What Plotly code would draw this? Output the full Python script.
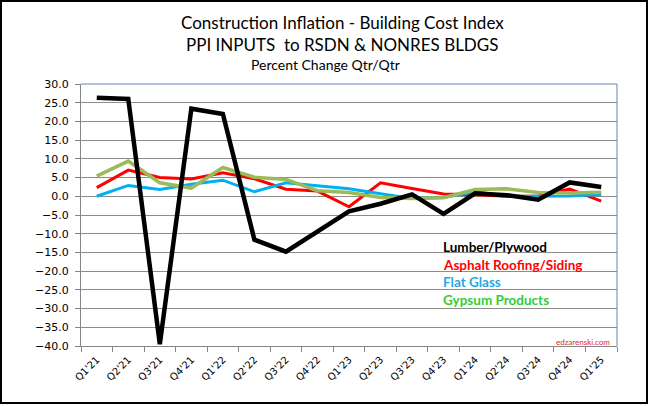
import plotly.graph_objects as go

quarters = ["Q1'21", "Q2'21", "Q3'21", "Q4'21", "Q1'22", "Q2'22", "Q3'22", "Q4'22",
            "Q1'23", "Q2'23", "Q3'23", "Q4'23", "Q1'24", "Q2'24", "Q3'24", "Q4'24", "Q1'25"]

lumber_plywood = [26.3, 26.0, -39.5, 23.4, 22.0, -11.6, -14.8, -9.3, -4.0, -2.0, 0.5, -4.7, 0.8, 0.3, -0.9, 3.7, 2.5]
asphalt_roofing = [2.3, 7.0, 5.0, 4.6, 6.3, 4.7, 1.9, 1.4, -2.8, 3.6, 2.1, 0.6, 0.4, 0.0, 0.1, 1.9, -1.3]
flat_glass = [0.0, 2.9, 1.8, 3.2, 4.3, 1.2, 3.6, 2.7, 2.0, 0.7, -0.6, -0.3, 1.2, 0.0, 0.0, 0.1, 0.5]
gypsum_products = [5.4, 9.4, 3.6, 2.2, 7.7, 5.1, 4.5, 1.5, 1.0, -0.3, -0.6, -0.4, 1.8, 2.0, 1.0, 0.9, 1.1]

series_names = ["Lumber/Plywood", "Asphalt Roofing/Siding", "Flat Glass", "Gypsum Products"]

title_lines = ["Construction Inflation - Building Cost Index",
               "PPI INPUTS  to RSDN & NONRES BLDGS",
               "Percent Change Qtr/Qtr"]
watermark = "edzarenski.com"

W, H = 650, 406
L, R, T, B = 81, 33, 84, 60
PW, PH = W - L - R, H - T - B


def px(x):
    return (x - L) / PW


def py(y):
    return (H - B - y) / PH


line_colors = ["#000000", "#FF0000", "#00B0F0", "#9BBB59"]
line_widths = [4.5, 3, 3, 3.5]
text_colors = ["#000000", "#FF0000", "#22A8E6", "#33CC33"]

values = [lumber_plywood, asphalt_roofing, flat_glass, gypsum_products]

fig = go.Figure()
for i in [1, 2, 3, 0]:
    fig.add_trace(go.Scatter(
        x=quarters, y=values[i], mode="lines", name=series_names[i],
        line=dict(color=line_colors[i], width=line_widths[i]),
        showlegend=False))

annotations = []
title_pos = [(342.5, 23, 17), (342, 45, 17), (325, 64, 14)]
for txt, (cx, cy, fs) in zip(title_lines, title_pos):
    annotations.append(dict(text=txt, xref="paper", yref="paper", x=px(cx), y=py(cy),
                            xanchor="center", yanchor="middle", showarrow=False,
                            font=dict(family="Lato", size=fs, color="#000000")))

for i, name in enumerate(series_names):
    annotations.append(dict(text="<b>%s</b>" % name, xref="paper", yref="paper",
                            x=px(441), y=py(246.7 + 17.8 * i), xanchor="left", yanchor="middle",
                            showarrow=False, font=dict(family="Lato", size=13.5, color=text_colors[i])))

annotations.append(dict(text=watermark, xref="paper", yref="paper", x=px(612), y=py(341.5),
                        xanchor="right", yanchor="middle", showarrow=False,
                        font=dict(family="Lato", size=8, color="#D9262E")))

shapes = [
    # plot area border (top and right)
    dict(type="line", xref="paper", yref="paper", x0=0, x1=1, y0=1, y1=1,
         line=dict(color="#6A82B0", width=1)),
    dict(type="line", xref="paper", yref="paper", x0=1, x1=1, y0=0, y1=1,
         line=dict(color="#6A82B0", width=1)),
    # outer chart frame
    dict(type="rect", xref="paper", yref="paper", x0=px(1), x1=px(647), y0=py(1), y1=py(403),
         line=dict(color="#000000", width=2), layer="above"),
]

fig.update_layout(
    width=W, height=H,
    margin=dict(l=L, r=R, t=T, b=B, pad=0),
    paper_bgcolor="white", plot_bgcolor="white",
    showlegend=False,
    annotations=annotations,
    shapes=shapes,
    xaxis=dict(type="category", range=[-0.5, len(quarters) - 0.5], tickson="boundaries",
               showgrid=False, zeroline=False, showline=True, linecolor="#868686", linewidth=1,
               ticks="outside", ticklen=5, tickcolor="#868686", tickangle=-45,
               ticklabelstandoff=3,
               tickfont=dict(family="DejaVu Sans", size=10, color="#000000")),
    yaxis=dict(range=[-40, 30], dtick=5, tick0=0, tickformat=".1f",
               showgrid=True, gridcolor="#8C8C8C", gridwidth=1, zeroline=False,
               showline=True, linecolor="#868686", linewidth=1,
               ticks="outside", ticklen=5, tickcolor="#868686",
               ticklabelstandoff=4,
               tickfont=dict(family="DejaVu Sans", size=11, color="#000000")),
)

fig.write_html("out.html")
